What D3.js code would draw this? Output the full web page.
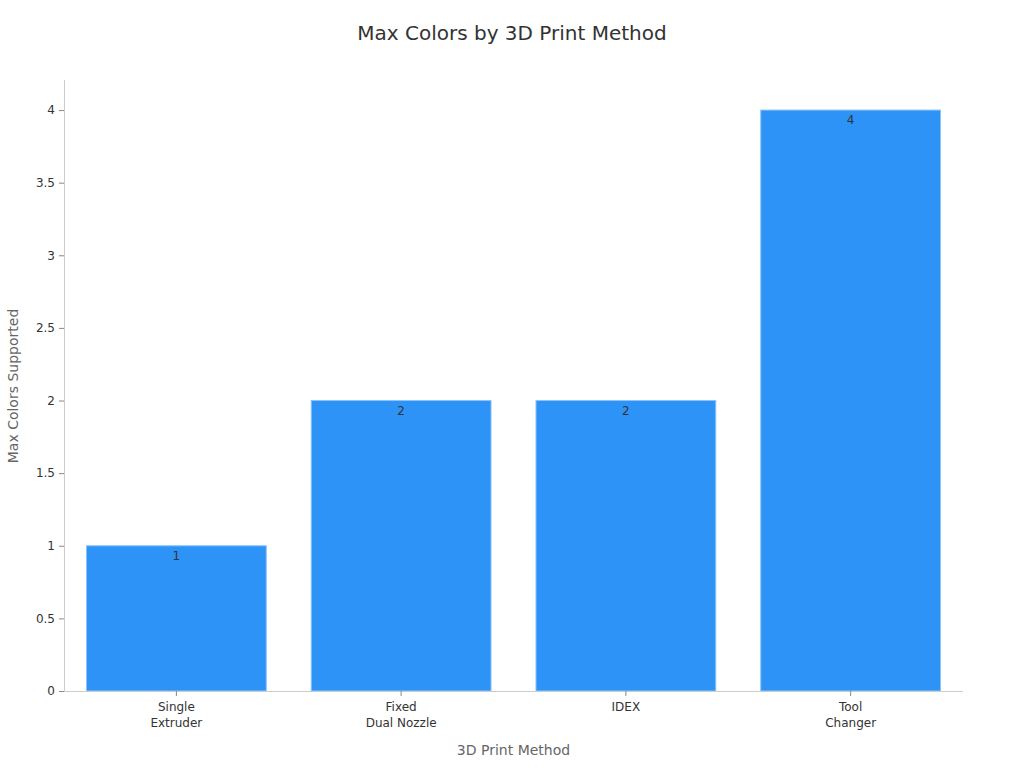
<!DOCTYPE html>
<html>
<head>
<meta charset="utf-8">
<script src="https://cdn.jsdelivr.net/npm/d3@7"></script>
<style>
  body { margin: 0; background: #fff; }
  text { font-family: "DejaVu Sans", sans-serif; }
</style>
</head>
<body>
<div id="chart"></div>
<script>
var categories = [['Single', 'Extruder'], ['Fixed', 'Dual Nozzle'], ['IDEX'], ['Tool', 'Changer']]
var values = [1, 2, 2, 4]
var yTicks = [0, 0.5, 1, 1.5, 2, 2.5, 3, 3.5, 4]

var width = 1024, height = 768
var margin = { top: 81, right: 61, bottom: 77, left: 64 }

var svg = d3.select('#chart')
  .append('svg')
  .attr('width', width)
  .attr('height', height)

var keys = categories.map(c => c.join(' '))

var x = d3.scaleBand()
  .domain(keys)
  .range([margin.left, width - margin.right])
  .paddingInner(0.2)
  .paddingOuter(0.1)

var y = d3.scaleLinear()
  .domain([0, 4.2])
  .range([height - margin.bottom, margin.top])

// title
svg.append('text')
  .attr('x', width / 2)
  .attr('y', 40)
  .attr('text-anchor', 'middle')
  .attr('font-size', 20)
  .attr('fill', '#333')
  .text('Max Colors by 3D Print Method')

// bars
svg.append('g')
  .selectAll('rect')
  .data(values)
  .enter()
  .append('rect')
  .attr('x', (d, i) => x(keys[i]))
  .attr('y', d => y(d))
  .attr('width', x.bandwidth())
  .attr('height', d => y(0) - y(d))
  .attr('fill', '#2e93f7')
  .attr('stroke', '#8cc4fb')
  .attr('stroke-width', 1)

// value labels
svg.append('g')
  .selectAll('text')
  .data(values)
  .enter()
  .append('text')
  .attr('x', (d, i) => x(keys[i]) + x.bandwidth() / 2)
  .attr('y', d => y(d) + 14)
  .attr('text-anchor', 'middle')
  .attr('font-size', 12)
  .attr('fill', '#333')
  .text(d => d)

// y axis
var yAxis = svg.append('g')
  .attr('transform', 'translate(' + margin.left + ',0)')
  .call(d3.axisLeft(y).tickValues(yTicks).tickFormat(d3.format('~g')).tickSize(5).tickPadding(4))
yAxis.select('.domain').attr('stroke', '#ccc').attr('d', 'M0.5,' + (margin.top - 1) + 'V' + y(0))
yAxis.selectAll('.tick line').attr('stroke', '#888')
yAxis.selectAll('.tick text').attr('font-size', 12).attr('fill', '#333').attr('font-family', '"DejaVu Sans", sans-serif')

// x axis
var xAxis = svg.append('g')
  .attr('transform', 'translate(0,' + y(0) + ')')
  .call(d3.axisBottom(x).tickSize(5).tickFormat(''))
xAxis.select('.domain').attr('stroke', '#ccc').attr('d', 'M' + margin.left + ',0.5H' + (width - margin.right))
xAxis.selectAll('.tick line').attr('stroke', '#888')
xAxis.selectAll('.tick').each(function (d, i) {
  var t = d3.select(this).append('text')
    .attr('text-anchor', 'middle')
    .attr('font-size', 12)
    .attr('fill', '#333')
    .attr('font-family', '"DejaVu Sans", sans-serif')
  categories[i].forEach(function (line, j) {
    t.append('tspan')
      .attr('x', 0)
      .attr('y', 20 + j * 16)
      .text(line)
  })
})

// axis titles
svg.append('text')
  .attr('x', (margin.left + width - margin.right) / 2)
  .attr('y', 755)
  .attr('text-anchor', 'middle')
  .attr('font-size', 14)
  .attr('fill', '#666')
  .text('3D Print Method')

svg.append('text')
  .attr('transform', 'translate(18,' + (margin.top + y(0)) / 2 + ') rotate(-90)')
  .attr('text-anchor', 'middle')
  .attr('font-size', 14)
  .attr('fill', '#666')
  .text('Max Colors Supported')
</script>
</body>
</html>
